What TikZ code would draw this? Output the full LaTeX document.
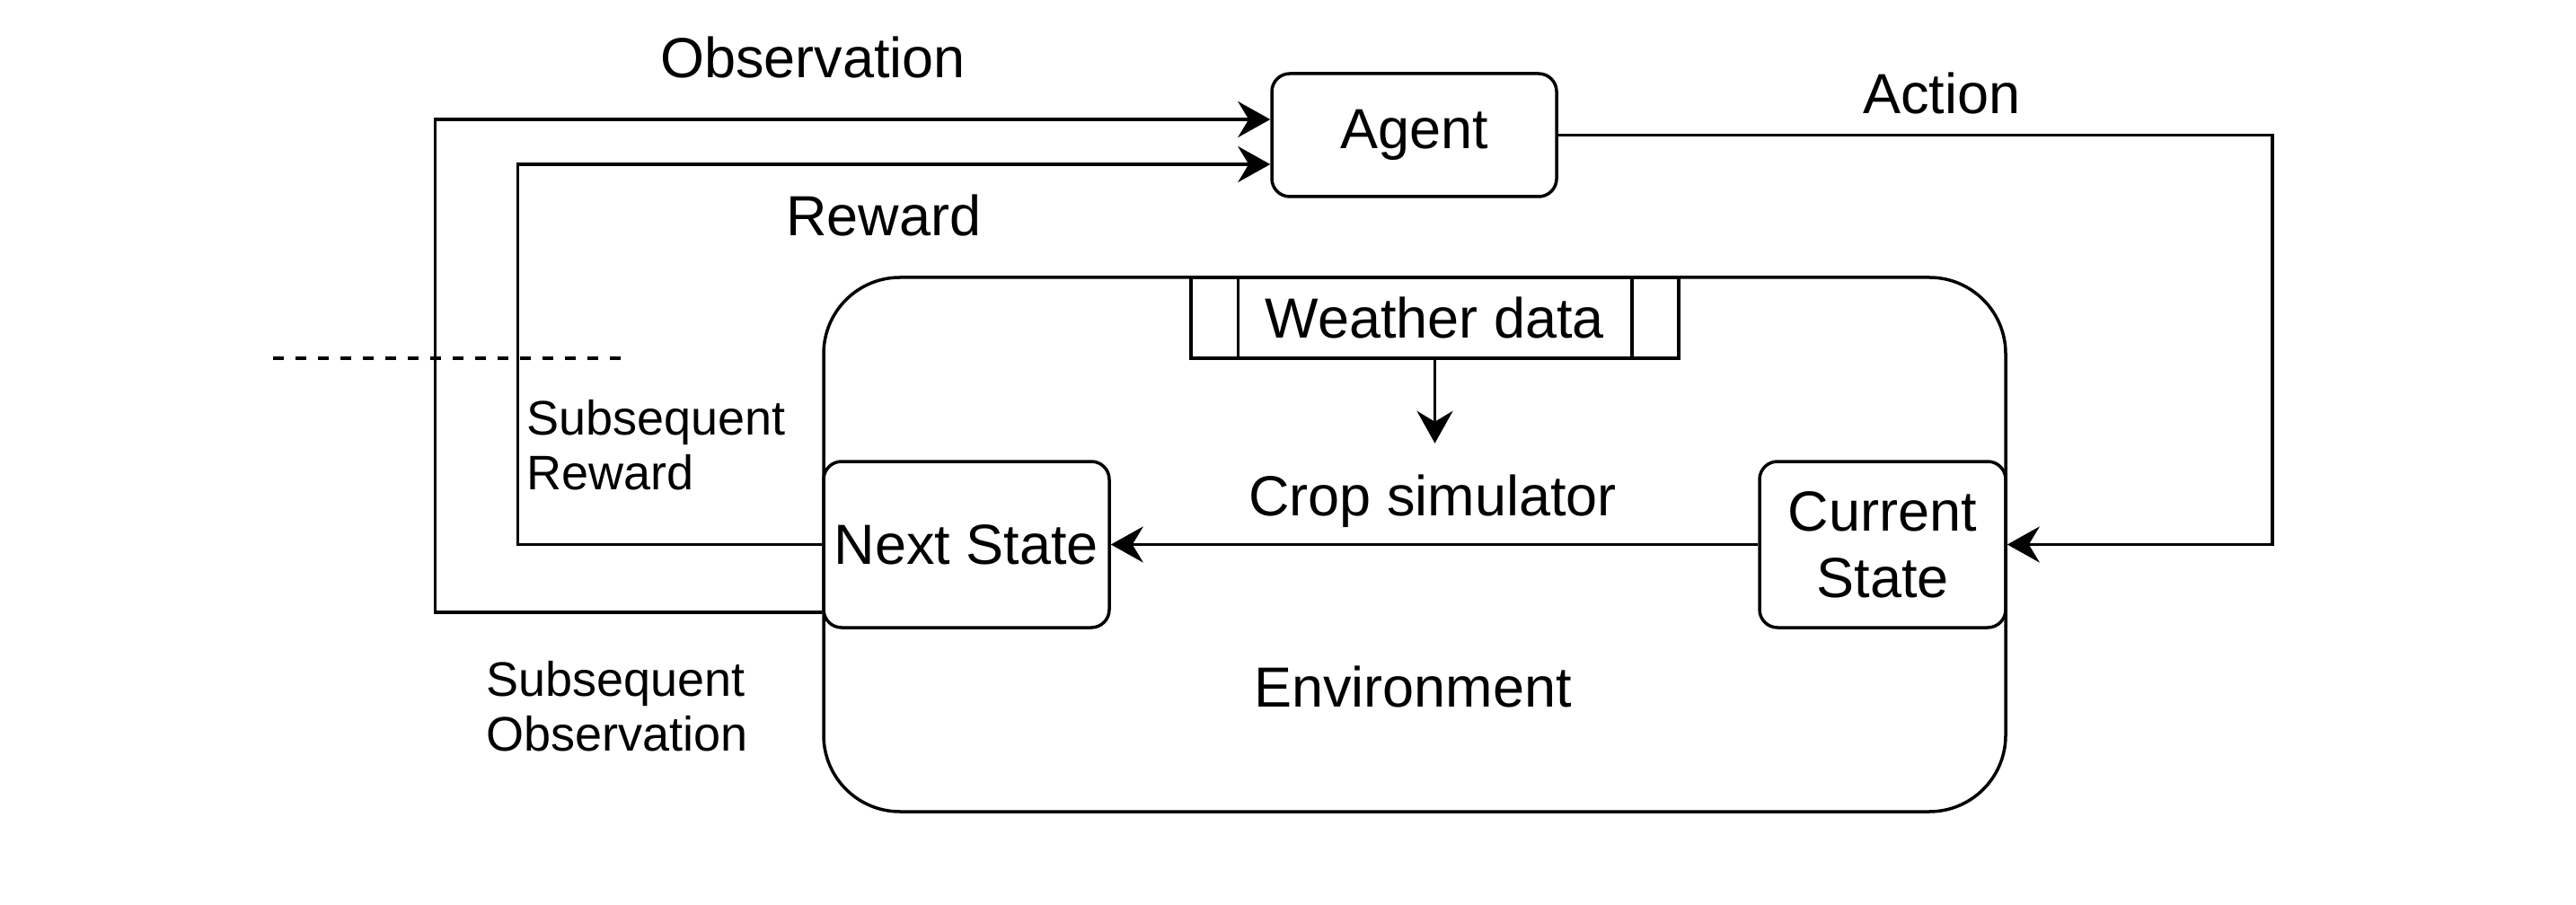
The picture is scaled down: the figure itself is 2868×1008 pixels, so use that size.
\documentclass[tikz,border=0pt]{standalone}
\usepackage{fontspec}
\setmainfont{Liberation Sans}
\usetikzlibrary{arrows.meta,calc}
\begin{document}
\begin{tikzpicture}[x=1pt,y=-1pt,
  line width=3.5pt,
  big/.style={font=\fontsize{63}{74}\selectfont},
  small/.style={font=\fontsize{54}{61}\selectfont},
  box/.style={draw,rounded corners=20pt,inner sep=0pt,big,align=center},
  arr/.style={-{Stealth[length=36pt,width=40pt,inset=12pt]}},
  lbl/.style={inner sep=0pt}]
\useasboundingbox (0,0) rectangle (2868,1008);
\fill[white] (0,0) rectangle (2868,1008);
% environment
\node[draw,rounded corners=85pt,minimum width=1316pt,minimum height=595pt,inner sep=0pt] (env) at (1575,606.5) {};
\node[lbl,big] (envlbl) at (1573,765) {Environment};
% agent
\node[box,minimum width=317pt,minimum height=137pt] (agent) at (1574.5,150.5) {Agent};
% weather data
\node[draw,sharp corners,fill=white,minimum width=543pt,minimum height=90pt,inner sep=0pt,big] (weather) at (1597.5,354) {Weather data};
\draw ($(weather.north west)+(54,0)$) -- ($(weather.south west)+(54,0)$);
\draw ($(weather.north east)+(-54,0)$) -- ($(weather.south east)+(-54,0)$);
% states
\node[box,minimum width=318pt,minimum height=185pt] (next) at (1076,606.5) {Next State};
\node[box,minimum width=274pt,minimum height=185pt] (cur) at (2096,606.5) {Current\\State};
\node[lbl,big] (crop) at (1595,558) {Crop simulator};
% connectors
\draw[arr] (weather.south) -- ++(0,93);
\draw[arr] (cur.west) -- (next.east);
\draw[arr] (agent.east) -- ++(795,0) |- (cur.east);
\coordinate (obsin) at ($(agent.west)+(0,-17.5)$);
\coordinate (rewin) at ($(agent.west)+(0,32.5)$);
\coordinate (obsout) at ($(next.west)+(0,75.5)$);
\draw[arr] (obsout) -- ++(-431,0) |- (obsin);
\draw[arr] (next.west) -- ++(-339,0) |- (rewin);
\draw[line width=3.5pt,dash pattern=on 12pt off 13pt] (304,399) -- (700,399);
% labels
\node[lbl,big] (obslbl) at (905,64) {Observation};
\node[lbl,big] (rewlbl) at (984,240) {Reward};
\node[lbl,big] (actlbl) at (2162,104) {Action};
\node[lbl,small,align=left,anchor=west] (srew) at (585,496) {Subsequent\\Reward};
\node[lbl,small,align=left,anchor=west] (sobs) at (540,787) {Subsequent\\Observation};
\end{tikzpicture}
\end{document}
